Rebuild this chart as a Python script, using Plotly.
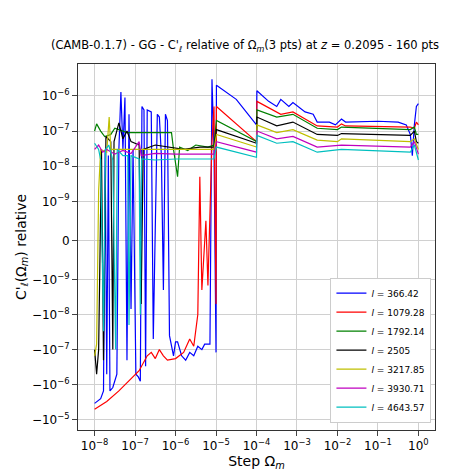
import numpy as np
import plotly.graph_objects as go

labels = ["366.42", "1079.28", "1792.14", "2505", "3217.85", "3930.71", "4643.57"]
colors = ["#0000ff", "#ff0000", "#008000", "#000000", "#bfbf00", "#bf00bf", "#00bfbf"]

blue_x = [-8.0,-7.85,-7.78,-7.74,-7.7,-7.66,-7.62,-7.55,-7.45,-7.4,-7.35,-7.3,-7.25,-7.2,-7.15,-7.1,-7.05,-6.98,-6.92,-6.87,-6.83,-6.78,-6.74,-6.7,-6.6,-6.55,-6.45,-6.4,-6.35,-6.3,-6.25,-6.2,-6.15,-6.05,-6.0,-5.95,-5.85,-5.75,-5.65,-5.55,-5.45,-5.35,-5.28,-5.15,-5.1,-5.05,-5.0,-4.99,-4.5,-4.2,-4.0,-3.99,-3.7,-3.5,-3.4,-3.2,-3.1,-2.8,-2.6,-2.5,-2.2,-2.05,-1.9,-1.8,-1.0,-0.5,-0.3,-0.2,-0.15,-0.1,-0.05,0.0]
blue_y = [-3.4e-6,-2.5e-6,-1.5e-6,3e-8,-5e-7,2e-8,-1.5e-6,-1.2e-6,-5e-7,3e-8,1.3e-6,3e-8,9e-7,-2e-7,3e-7,-7e-9,3e-8,-5e-7,-6e-7,-8e-7,5e-7,4e-7,-3e-7,4e-7,3.5e-7,-5e-8,3e-7,2.5e-7,2e-8,-2e-9,3e-7,2e-7,-4e-8,-1.5e-7,-6e-8,-6e-8,-1.5e-7,-2e-7,-1.2e-7,-1.5e-7,-8e-8,-1e-7,-7e-8,-7e-8,3e-6,3e-8,-1.2e-7,2e-6,8e-7,3e-7,1.5e-7,1.4e-6,7e-7,5e-7,8e-7,5e-7,6.5e-7,3.5e-7,3e-7,1.8e-7,1.8e-7,1.5e-7,2.2e-7,1.8e-7,1.9e-7,1.8e-7,1.5e-7,8e-8,2e-8,1.5e-7,5e-7,6e-7]
red_x = [-8,-7.7,-7.4,-7.1,-6.9,-6.7,-6.6,-6.5,-6.4,-6.3,-6.2,-6.0,-5.8,-5.65,-5.55,-5.45,-5.4,-5.35,-5.25,-5.2,-5.1,-5.05,-5.0,-4.99,-4.0,-3.99,-3.4,-3.1,-2.5,-2.0,-1.9,-1.8,-0.2,-0.1,-0.05,0]
red_y = [-5e-6,-3e-6,-1.5e-6,-7e-7,-4e-7,-1.5e-7,-1.2e-7,-1.8e-7,-1e-7,-1.5e-7,-2e-7,-1.8e-7,-1.2e-7,-5e-8,-8e-8,-1e-8,5e-9,-2e-9,5e-10,-1.5e-9,5e-8,5e-7,-5e-9,5e-7,5e-8,7e-7,3e-7,3.5e-7,1.4e-7,1.3e-7,1.6e-7,1.4e-7,1.3e-7,1.2e-7,1.8e-7,1.5e-7]
green_x = [-8,-7.95,-7.85,-7.75,-7.6,-7.5,-7.4,-7.2,-6.9,-6.5,-6.1,-6.05,-5.95,-5.9,-5.7,-5.5,-5.2,-5.05,-4.99,-4.0,-3.99,-3.5,-3.1,-2.5,-2.0,-1.9,-0.2,-0.1,-0.05,0]
green_y = [1e-7,1.6e-7,1e-7,7e-8,8e-8,1.2e-7,1.1e-7,9e-8,9e-8,9e-8,9e-8,3e-8,5e-9,3.5e-8,2.8e-8,4e-8,3.5e-8,4e-8,2e-7,5e-8,4e-7,2.5e-7,3e-7,1.2e-7,1.1e-7,1.3e-7,1.1e-7,1.3e-7,8e-8,8e-8]
black_x = [-8,-7.95,-7.9,-7.83,-7.78,-7.72,-7.6,-7.55,-7.52,-7.4,-7.3,-7.2,-7.1,-6.9,-6.85,-6.8,-6.5,-6.2,-5.8,-5.4,-5.05,-4.99,-4.0,-3.99,-3.5,-3.1,-2.5,-2.0,-1.9,-0.2,-0.1,-0.05,0]
black_y = [-1e-7,-5e-7,-1e-7,3e-8,-2e-7,7e-8,5e-8,-1e-7,5e-8,1.7e-7,6e-8,1e-7,5e-8,4e-8,-5e-9,3e-8,4e-8,3.5e-8,3e-8,3.5e-8,3.5e-8,1.1e-7,4.5e-8,2.5e-7,1.4e-7,1.8e-7,8e-8,7.5e-8,8.5e-8,7.5e-8,1e-7,5e-8,4.5e-8]
yellow_x = [-8,-7.95,-7.9,-7.85,-7.7,-7.64,-7.6,-7.3,-7.0,-6.6,-6.0,-5.5,-5.05,-4.99,-4.0,-3.99,-3.5,-3.1,-2.5,-2.0,-1.9,-0.2,-0.1,0]
yellow_y = [-1.5e-7,-7e-8,2e-9,3e-8,2.5e-8,2.5e-7,3e-8,3e-8,3e-8,3e-8,3e-8,3e-8,3e-8,8e-8,3.5e-8,1.5e-7,9e-8,1.1e-7,5.5e-8,5e-8,6e-8,5e-8,6e-8,3e-8]
magenta_x = [-8,-7.9,-7.8,-7.7,-7.5,-7.3,-7.1,-6.9,-6.85,-6.5,-6.0,-5.5,-5.05,-4.99,-4.0,-3.99,-3.5,-3.1,-2.5,-1.9,-0.2,-0.1,0]
magenta_y = [3e-8,4e-8,2.5e-8,3e-8,2.2e-8,2.8e-8,2.3e-8,5e-8,2e-8,2.3e-8,2.2e-8,2.2e-8,2.2e-8,5e-8,2.5e-8,1e-7,6e-8,7e-8,3.5e-8,4e-8,3.5e-8,5e-8,2.2e-8]
cyan_x = [-8,-7.9,-7.85,-7.78,-7.73,-7.65,-7.55,-7.48,-7.44,-7.3,-7.18,-7.15,-7.1,-6.9,-6.87,-6.84,-6.5,-6.0,-5.5,-5.05,-4.99,-4.0,-3.99,-3.5,-3.1,-2.5,-1.9,-0.2,-0.1,0]
cyan_y = [4.5e-8,3e-8,1.5e-8,-3e-8,3e-8,4e-8,1.5e-8,-1e-7,3e-8,2e-8,2e-8,-2e-8,2e-8,1.6e-8,-1e-8,1.6e-8,1.5e-8,1.6e-8,1.6e-8,1.6e-8,3.5e-8,1.8e-8,7.5e-8,4.5e-8,5e-8,2.5e-8,3e-8,2.5e-8,4e-8,1.5e-8]

series_x = [blue_x, red_x, green_x, black_x, yellow_x, magenta_x, cyan_x]
series_y = [blue_y, red_y, green_y, black_y, yellow_y, magenta_y, cyan_y]

LT = 1e-9
LS = 1.0 / (1 - 0.1)

def symlog(v):
    v = np.asarray(v, dtype=float)
    a = np.abs(v)
    out = np.where(a >= LT, np.sign(v) * (np.log10(np.maximum(a, LT) / LT) + LS), v / LT * LS)
    return out

fig = go.Figure()
for lab, c, xs, ys in zip(labels, colors, series_x, series_y):
    fig.add_trace(go.Scatter(x=[10.0**e for e in xs], y=symlog(ys), mode="lines",
                             line=dict(color=c, width=1.2), name=f"<i>l</i> = {lab}"))

tick_vals = [1e-6, 1e-7, 1e-8, 1e-9, 0, -1e-9, -1e-8, -1e-7, -1e-6, -1e-5]
tick_text = ["10<sup>−6</sup>", "10<sup>−7</sup>", "10<sup>−8</sup>", "10<sup>−9</sup>", "0",
             "−10<sup>−9</sup>", "−10<sup>−8</sup>", "−10<sup>−7</sup>", "−10<sup>−6</sup>", "−10<sup>−5</sup>"]
x_ticks = [1e-8, 1e-7, 1e-6, 1e-5, 1e-4, 1e-3, 1e-2, 1e-1, 1]
x_text = ["10<sup>−8</sup>", "10<sup>−7</sup>", "10<sup>−6</sup>", "10<sup>−5</sup>", "10<sup>−4</sup>",
          "10<sup>−3</sup>", "10<sup>−2</sup>", "10<sup>−1</sup>", "10<sup>0</sup>"]

fig.update_layout(
    width=474, height=474, paper_bgcolor="white", plot_bgcolor="white",
    margin=dict(l=60, r=47, t=56, b=52),
    font=dict(family="DejaVu Sans", size=12, color="black"),
    title=dict(text="(CAMB-0.1.7) - GG - C'<sub><i>ℓ</i></sub> relative of Ω<sub><i>m</i></sub>(3 pts) at <i>z</i> = 0.2095 - 160 pts",
               x=0.5, xanchor="center", y=0.93, font=dict(size=11.5)),
    legend=dict(x=0.99, y=0.02, xanchor="right", yanchor="bottom", bgcolor="white",
                bordercolor="#cccccc", borderwidth=1, font=dict(size=9), tracegroupgap=0,
                itemwidth=30),
)
fig.update_xaxes(type="log", range=[-8.41, 0.41], tickvals=x_ticks, ticktext=x_text,
                 showgrid=True, gridcolor="#d0d0d0", showline=True, linecolor="#333333", mirror=True,
                 ticks="outside", tickfont=dict(size=12), title=dict(text="Step Ω<sub><i>m</i></sub>", standoff=2))
fig.update_yaxes(range=[-5.40, 5.02], tickvals=list(symlog(tick_vals)), ticktext=tick_text,
                 showgrid=True, gridcolor="#d0d0d0", showline=True, linecolor="#333333", mirror=True,
                 ticks="outside", zeroline=False, tickfont=dict(size=12),
                 title=dict(text="C'<sub><i>ℓ</i></sub>(Ω<sub><i>m</i></sub>) relative", standoff=2))
fig.write_html("out.html")
